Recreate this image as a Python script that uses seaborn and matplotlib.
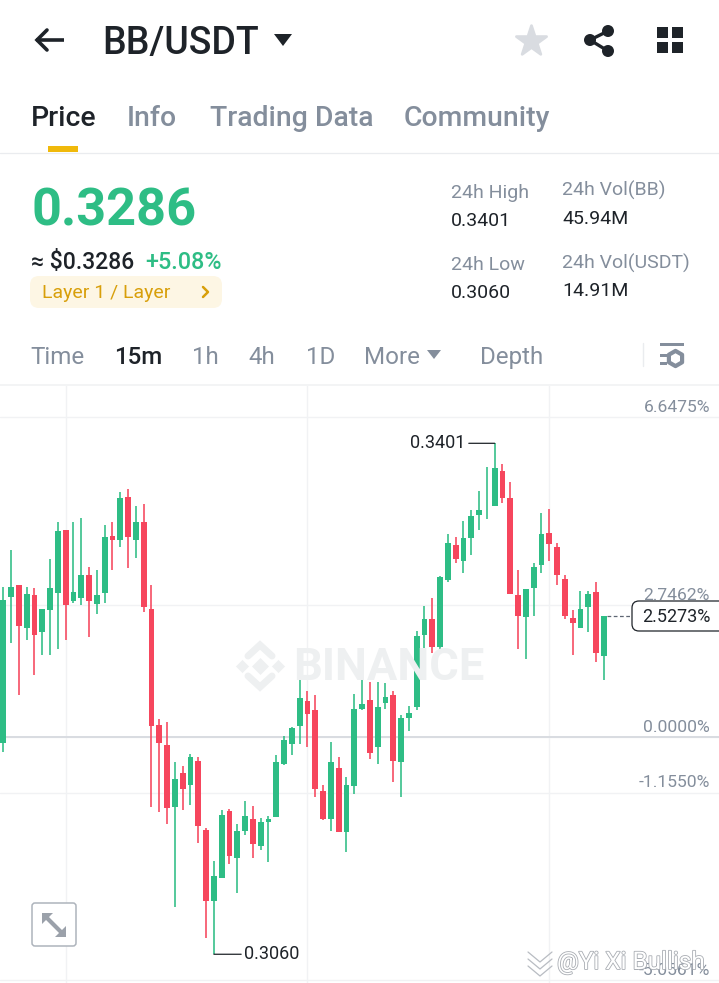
import pandas as pd
import seaborn as sns
import matplotlib.pyplot as plt
import matplotlib.patheffects as pe
from matplotlib.patches import FancyBboxPatch, Rectangle, Circle, Polygon

# candles in percent from the chart's base price
opens = [-0.12, 2.92, 3.16, 2.27, 2.95, 2.18, 2.64, 2.99, 4.31, 2.83, 2.89, 3.38, 2.77, 2.99, 4.19, 4.10,
         5.00, 4.10, 4.47, 2.67, 0.25, -0.16, -1.45, -0.75, -0.99, -0.50, -1.93, -3.41, -2.94, -1.55, -2.51, -1.96,
         -1.71, -2.26, -1.77, -1.67, -0.56, -0.15, 0.22, 0.74, 0.56, -1.12, -1.71, -0.65, -1.98, -1.02, 0.58, 0.77,
         -0.21, 0.71, 0.87, -0.52, 0.40, 0.62, 2.12, 2.45, 1.87, 3.26, 4.00, 3.67, 4.13, 4.62, 4.74, 4.81,
         5.53, 4.97, 2.95, 2.49, 3.11, 3.57, 4.25, 3.95, 3.29, 2.48, 2.27, 2.70, 3.01, 1.68]
closes = [2.85, 3.13, 2.31, 2.97, 2.12, 2.67, 3.10, 4.29, 2.74, 3.01, 3.38, 2.83, 2.95, 4.16, 4.10, 4.97,
          4.16, 4.47, 2.70, 0.22, -0.12, -1.48, -0.87, -1.08, -0.41, -1.85, -3.41, -2.90, -1.62, -2.48, -1.96, -1.64,
          -2.23, -1.77, -1.71, -0.53, -0.07, 0.18, 0.81, 0.47, -1.08, -1.71, -0.53, -1.98, -1.00, 0.58, 0.68, -0.34,
          0.62, 0.83, -0.49, 0.40, 0.49, 2.11, 2.45, 1.87, 3.32, 4.04, 3.70, 4.13, 4.59, 4.72, 4.75, 5.59,
          4.97, 2.98, 2.52, 3.07, 3.54, 4.22, 4.01, 3.36, 2.52, 2.37, 2.66, 2.98, 1.75, 2.52]
highs = [3.13, 3.90, 3.16, 3.13, 3.10, 2.67, 3.70, 4.47, 4.31, 4.47, 4.56, 3.54, 3.47, 4.41, 4.47, 5.09,
         5.15, 4.81, 4.84, 3.16, 0.37, 0.31, -0.53, -0.60, -0.35, -0.41, -1.90, -2.58, -1.52, -1.49, -1.80, -1.34,
         -1.43, -1.68, -1.64, -0.37, 0.03, 0.21, 1.39, 0.96, 0.87, -1.00, -0.10, -0.41, -0.84, 0.89, 1.55, 1.14,
         1.14, 1.12, 0.96, 0.46, 0.65, 2.21, 2.73, 2.89, 3.35, 4.22, 4.16, 4.50, 4.72, 5.12, 5.62, 6.11,
         5.68, 5.30, 3.47, 3.07, 3.63, 4.65, 4.75, 4.04, 3.38, 2.64, 3.04, 3.04, 3.22, 2.52]
lows = [-0.31, 1.96, 0.87, 2.02, 1.28, 1.71, 1.71, 1.84, 2.02, 2.79, 2.74, 2.09, 2.55, 2.79, 3.47, 3.95,
        3.51, 3.72, 2.61, -1.45, -1.57, -1.80, -3.53, -1.52, -1.42, -2.20, -4.19, -4.52, -2.94, -2.64, -3.25, -2.04,
        -2.51, -2.36, -2.60, -1.67, -0.59, -0.37, -0.15, -0.21, -1.24, -1.73, -1.96, -1.98, -2.39, -1.18, 0.56, -0.46,
        -0.56, 0.59, -0.93, -1.24, 0.12, 0.56, 1.71, 1.74, 1.80, 3.23, 3.63, 3.42, 3.79, 4.31, 4.53, 4.81,
        4.87, 2.98, 1.84, 1.62, 2.52, 3.42, 3.67, 3.17, 2.45, 1.71, 2.27, 2.18, 1.55, 1.19]

pct_ticks = [6.6475, 2.7462, 0.0, -1.1550, -5.0561]
pct_labels = ["6.6475%", "2.7462%", "0.0000%", "-1.1550%", "-5.0561%"]
time_ticks = [8, 39, 70]
high_idx, high_label = 63, "0.3401"
low_idx, low_label = 27, "0.3060"
last_label = "2.5273%"

GREEN = "#2ebd85"
RED = "#f6465d"
DARK = "#1e2329"
GREY = "#848e9c"
GRID = "#f1f2f4"

sns.set_theme(style="white")
plt.rcParams["font.family"] = ["Roboto", "DejaVu Sans"]

df = pd.DataFrame({"idx": range(len(opens)), "open": opens, "close": closes, "high": highs, "low": lows})
df["up"] = df["close"] >= df["open"]
df["lower"] = df[["open", "close"]].min(axis=1)
df["height"] = (df["close"] - df["open"]).abs()

fig = plt.figure(figsize=(7.19, 9.83), dpi=100, facecolor="white")
ax = fig.add_axes([0, 0, 1, 598 / 983])
ui = fig.add_axes([0, 0, 1, 1], facecolor="none")
ui.set_xlim(0, 719)
ui.set_ylim(983, 0)
ui.axis("off")

for up, color in [(True, GREEN), (False, RED)]:
    part = df[df["up"] == up]
    ax.vlines(part["idx"], part["low"], part["high"], color=color, lw=1.15, zorder=3)
    sns.barplot(data=part, x="idx", y="height", bottom=part["lower"], native_scale=True, color=color,
                width=0.74, errorbar=None, saturation=1, linewidth=0, ax=ax, zorder=3)

ax.set_xlim(-0.423, 91.76)
ax.set_ylim(-5.118, 7.323)
ax.set_xticks(time_ticks)
ax.set_yticks(pct_ticks)
ax.tick_params(labelbottom=False, labelleft=False, length=0)
ax.set_xlabel("")
ax.set_ylabel("")
ax.grid(True, color=GRID, lw=1)
ax.set_axisbelow(True)
ax.axhline(0, color="#d9dce1", lw=1.4, zorder=1)
sns.despine(ax=ax, left=True, bottom=True, right=True, top=True)

for tick, label in zip(pct_ticks, pct_labels):
    ax.annotate(label, xy=(710 / 719, tick), xycoords=ax.get_yaxis_transform(), xytext=(0, 7),
                textcoords="offset points", ha="right", va="center", fontsize=12.6, color=GREY)

ax.annotate(high_label, xy=(high_idx, highs[high_idx]), xytext=(-21, 0), textcoords="offset points",
            ha="right", va="center", fontsize=13, color=DARK,
            arrowprops=dict(arrowstyle="-", color=DARK, lw=0.9, shrinkA=0, shrinkB=0))
ax.annotate(low_label, xy=(low_idx, lows[low_idx]), xytext=(22, 0), textcoords="offset points",
            ha="left", va="center", fontsize=13, color=DARK,
            arrowprops=dict(arrowstyle="-", color=DARK, lw=0.9, shrinkA=0, shrinkB=0))
ax.plot([len(opens) - 0.6, 80.5], [closes[-1], closes[-1]], color="#5e6673", lw=0.9, ls=(0, (3, 2)), zorder=3)


def label(x, y, s, size, color=GREY, weight="normal", ha="left", **kw):
    return ui.text(x, y + 3.5, s, fontsize=size, color=color, fontweight=weight, ha=ha, va="center", **kw)


# header
ui.plot([36, 64], [40, 40], color=DARK, lw=2.6, solid_capstyle="butt")
ui.plot([47, 37, 47], [30, 40, 50], color=DARK, lw=2.6, solid_joinstyle="miter")
label(102, 40, "BB/USDT", 27, DARK, "medium")
ui.add_patch(Polygon([[274, 34], [292, 34], [283, 46]], color=DARK, lw=0))
ui.scatter([531], [41], marker="*", s=520, color="#d9dce1", ec="#d9dce1", lw=2)
ui.plot([608, 590, 608], [31, 40, 51], color=DARK, lw=2.4)
for cx, cy in [(608, 31), (590, 40), (608, 51)]:
    ui.add_patch(Circle((cx, cy), 6, color=DARK, lw=0))
for rx, ry in [(657, 27), (672, 27), (657, 42), (672, 42)]:
    ui.add_patch(Rectangle((rx, ry), 11, 11, color=DARK, lw=0))

# tabs
label(31, 115, "Price", 20.4, DARK, "medium")
label(127, 115, "Info", 20.4, GREY, "medium")
label(210, 115, "Trading Data", 20.4, GREY, "medium")
label(404, 115, "Community", 20.4, GREY, "medium")
ui.add_patch(Rectangle((48, 146), 30, 6, color="#f0b90b", lw=0))
ui.plot([0, 719], [153, 153], color="#eaecef", lw=0.9)

# price block
label(31, 208, "0.3286", 37.6, GREEN, "bold")
label(31, 259, "≈ $0.3286", 16.5, DARK, "medium")
label(145, 259, "+5.08%", 16.8, GREEN, "medium")
ui.add_patch(FancyBboxPatch((30, 276), 192, 32, boxstyle="round,pad=0,rounding_size=9",
                            fc="#fdf6e4", ec="none", lw=0))
label(42, 290, "Layer 1 / Layer", 14, "#d89f0a")
ui.plot([203, 208, 203], [287, 292, 297], color="#d89f0a", lw=1.8)

label(451, 189, "24h High", 14, GREY)
label(451, 217, "0.3401", 14, DARK)
label(451, 261, "24h Low", 14, GREY)
label(451, 289, "0.3060", 14, DARK)
label(562, 187, "24h Vol(BB)", 14, GREY)
label(562, 216, "45.94M", 14, DARK)
label(562, 260, "24h Vol(USDT)", 14, GREY)
label(562, 288, "14.91M", 14, DARK)

# interval row
for x, s, c in [(30, "Time", GREY), (114, "15m", DARK), (192, "1h", GREY), (248, "4h", GREY),
                (306, "1D", GREY), (364, "More", GREY), (480, "Depth", GREY)]:
    label(x, 354, s, 17.4, c, "medium" if s == "15m" else "normal")
ui.add_patch(Polygon([[427, 350], [441, 350], [434, 359]], color=GREY, lw=0))
ui.plot([643, 643], [343, 366], color="#eaecef", lw=1)
ui.add_patch(Rectangle((660, 343), 24, 3, color=GREY, lw=0))
ui.add_patch(Rectangle((660, 354), 7, 3, color=GREY, lw=0))
ui.add_patch(Rectangle((660, 362), 7, 3, color=GREY, lw=0))
ui.scatter([675], [358], marker="h", s=120, fc="white", ec=GREY, lw=3)
ui.add_patch(Rectangle((0, 384), 719, 2, color="#f3f4f5", lw=0))

# binance watermark
WM = "#eef0f1"
for pts in [[(248, 656), (260, 645), (272, 656)], [(248, 676), (260, 687), (272, 676)]]:
    ui.plot(*zip(*pts), color=WM, lw=5, solid_joinstyle="miter", zorder=0)
for cx in [242, 260, 278]:
    ui.scatter([cx], [666], marker="D", s=75 if cx == 260 else 45, color=WM, lw=0, zorder=0)
label(293, 664, "BINANCE", 32.6, WM, "bold", zorder=0)

# current price tag
ui.add_patch(FancyBboxPatch((632, 601), 100, 30, boxstyle="round,pad=0,rounding_size=7",
                            fc="white", ec=DARK, lw=0.9, zorder=5))
label(642, 614, last_label, 13, DARK, zorder=6)

# expand button
ui.add_patch(FancyBboxPatch((32, 903), 44, 43, boxstyle="round,pad=0,rounding_size=3",
                            fc="white", ec="#aeb4bc", lw=1.1))
ui.plot([46, 62], [917, 933], color="#9ba1aa", lw=3)
ui.add_patch(Polygon([[42, 913], [53, 913], [42, 924]], color="#9ba1aa", lw=0))
ui.add_patch(Polygon([[66, 937], [55, 937], [66, 926]], color="#9ba1aa", lw=0))

# site watermark over the chart corner
for dy in [0, 7, 14]:
    ui.plot([528, 540, 552], [952 + dy, 962 + dy, 952 + dy], color="#b8bcc2", lw=0.9, zorder=7)
label(557, 959, "@Yi Xi Bullish", 17.5, "white", zorder=7,
      path_effects=[pe.withStroke(linewidth=1.2, foreground="#a9adb3")])

fig.savefig("out.png", dpi=100)
